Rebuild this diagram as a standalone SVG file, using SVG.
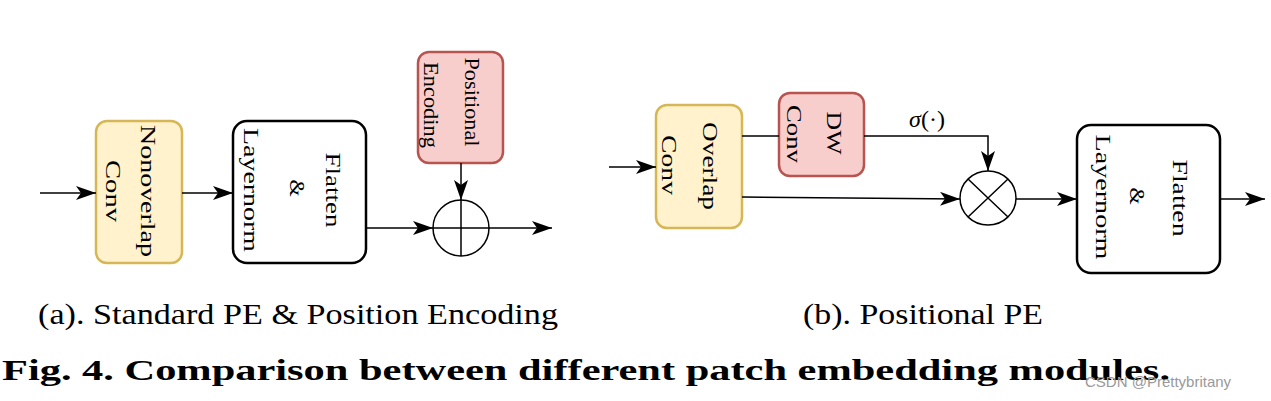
<svg xmlns="http://www.w3.org/2000/svg" width="1271" height="401" viewBox="0 0 1271 401">
<style>
.t{font-family:"Liberation Serif","Times New Roman",serif;font-size:22px;fill:#000;text-anchor:middle}
.y{fill:#fff2cc;stroke:#d6b656;stroke-width:2.5}
.r{fill:#f8cecc;stroke:#b85450;stroke-width:2.5}
.w{fill:#fff;stroke:#000;stroke-width:2.5}
.c{fill:none;stroke:#000;stroke-width:1.5}
.l{fill:none;stroke:#000;stroke-width:1.5;marker-end:url(#a)}
.cap{font-family:"Liberation Serif","Times New Roman",serif;font-size:30px;fill:#000}
</style>
<defs><marker id="a" viewBox="0 0 20 14" refX="20" refY="7" markerWidth="20" markerHeight="14" markerUnits="userSpaceOnUse" orient="auto"><path d="M0,0 L20,7 L0,14 L5,7 Z" fill="#000"/></marker></defs>
<g id="nonoverlap"><rect class="y" x="96" y="121" width="86" height="142" rx="11"/>
<text class="t" transform="translate(141,191) rotate(90)" textLength="132" lengthAdjust="spacingAndGlyphs">Nonoverlap</text>
<text class="t" transform="translate(106,191) rotate(90)" textLength="62" lengthAdjust="spacingAndGlyphs">Conv</text></g>
<g id="flatten1"><rect class="w" x="233" y="121" width="133" height="142" rx="14"/>
<text class="t" transform="translate(326,190) rotate(90)" textLength="75" lengthAdjust="spacingAndGlyphs">Flatten</text>
<text class="t" transform="translate(290,188) rotate(90)">&amp;</text>
<text class="t" transform="translate(244,190) rotate(90)" textLength="124" lengthAdjust="spacingAndGlyphs">Layernorm</text></g>
<g id="posenc"><rect class="r" x="418" y="52" width="85" height="111" rx="11"/>
<text class="t" transform="translate(465,102) rotate(90)" textLength="89" lengthAdjust="spacingAndGlyphs">Positional</text>
<text class="t" transform="translate(424,105) rotate(90)" textLength="86" lengthAdjust="spacingAndGlyphs">Encoding</text></g>
<g id="add"><circle class="c" cx="461" cy="228" r="28"/><path class="c" d="M433,228H489M461,200V256"/></g>
<g id="overlap"><rect class="y" x="656" y="105" width="86" height="123" rx="11"/>
<text class="t" transform="translate(703,166) rotate(90)" textLength="88" lengthAdjust="spacingAndGlyphs">Overlap</text>
<text class="t" transform="translate(662,165) rotate(90)" textLength="60" lengthAdjust="spacingAndGlyphs">Conv</text></g>
<g id="dwconv"><rect class="r" x="779" y="93" width="85" height="83" rx="11"/>
<text class="t" transform="translate(827,133) rotate(90)" textLength="43" lengthAdjust="spacingAndGlyphs">DW</text>
<text class="t" transform="translate(787,134) rotate(90)" textLength="58" lengthAdjust="spacingAndGlyphs">Conv</text></g>
<g id="mul"><ellipse class="c" cx="988" cy="198" rx="28" ry="27"/><path class="c" d="M968,179L1008,217M1008,179L968,217"/></g>
<g id="flatten2"><rect class="w" x="1077" y="125" width="143" height="148" rx="14"/>
<text class="t" transform="translate(1173,198) rotate(90)" textLength="77" lengthAdjust="spacingAndGlyphs">Flatten</text>
<text class="t" transform="translate(1130,196) rotate(90)">&amp;</text>
<text class="t" transform="translate(1096,197) rotate(90)" textLength="125" lengthAdjust="spacingAndGlyphs">Layernorm</text></g>
<text class="t" x="927" y="127" style="font-size:24px"><tspan font-style="italic">σ</tspan>(·)</text>
<g id="connectors">
<path class="l" d="M40,193H96"/>
<path class="l" d="M182,193H233"/>
<path class="l" d="M461,163V200"/>
<path class="l" d="M366,228H433"/>
<path class="l" d="M489,228H552"/>
<path class="l" d="M609,167H656"/>
<path class="c" d="M742,136H779"/>
<path class="l" d="M864,136H988V171"/>
<path class="l" d="M742,197L960,199"/>
<path class="l" d="M1016,199H1077"/>
<path class="l" d="M1220,199H1265"/>
</g>
<text class="cap" x="38" y="324" textLength="520" lengthAdjust="spacingAndGlyphs">(a). Standard PE &amp; Position Encoding</text>
<text class="cap" x="803" y="324" textLength="240" lengthAdjust="spacingAndGlyphs">(b). Positional PE</text>
<text class="cap" x="2" y="380" font-weight="bold" textLength="1168" lengthAdjust="spacingAndGlyphs">Fig. 4.  Comparison between different patch embedding modules.</text>
<text x="1085" y="387" style="font-family:'Liberation Sans',Arial,sans-serif;font-size:15px;fill:#999">CSDN @Prettybritany</text>
</svg>
